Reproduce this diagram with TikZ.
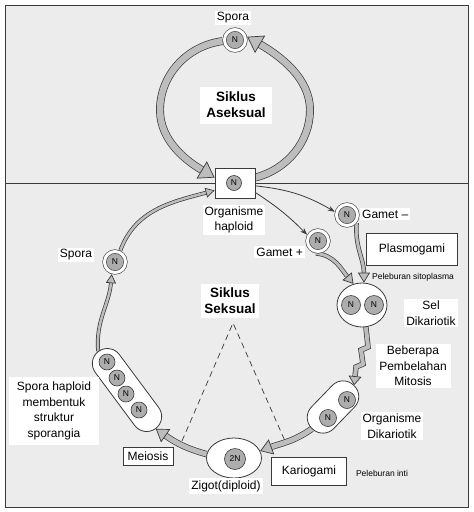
\documentclass[tikz,border=0pt]{standalone}
\usepackage{fontspec}
\setmainfont{Liberation Sans}
\usetikzlibrary{arrows.meta,shapes.geometric}
\pgfdeclarelayer{panel}
\pgfdeclarelayer{arr}
\pgfsetlayers{panel,arr,main}
\definecolor{panelc}{HTML}{ECECEC}
\definecolor{linec}{HTML}{3A3A3A}
\definecolor{fillc}{HTML}{BDBDBD}
\definecolor{nucc}{HTML}{ADADAD}
\newcommand\hollowarr[4]{%
  \draw[draw=linec,line width=0.7pt,double=fillc,double distance=#1,shorten >=#3] #4;
  \draw[draw=fillc,line width=0.3pt,-{Triangle[length=#3,width=#2,color=linec,fill=fillc,line width=0.7pt]}] #4;
}
\begin{document}
\begin{tikzpicture}[x=1pt,y=1pt,
  lbl/.style={fill=white,inner sep=2pt,align=center,font=\fontsize{12}{15.5}\selectfont},
  small/.style={inner sep=1pt,font=\fontsize{8.5}{10}\selectfont},
  boldlbl/.style={fill=white,inner sep=3pt,align=center,font=\bfseries\fontsize{13.5}{16}\selectfont},
  bx/.style={draw=linec,fill=white,line width=0.8pt,font=\fontsize{12}{14}\selectfont},
  nuc/.style={circle,draw=linec,fill=nucc,line width=0.6pt,inner sep=0pt,minimum size=#1,font=\fontsize{8.5}{9}\selectfont},
  spore/.style={circle,draw=linec,double=white,double distance=3pt,line width=0.6pt,fill=nucc,inner sep=0pt,minimum size=21pt,outer sep=2.1pt,font=\fontsize{8.5}{9}\selectfont},
  cell/.style={draw=linec,fill=white,line width=0.8pt,inner sep=0pt},
  thinarr/.style={draw=linec,line width=0.8pt,-{Stealth[length=7pt,width=5pt]}},
  dashln/.style={draw=linec,line width=0.7pt,dash pattern=on 6pt off 4pt},
  panelbox/.style={draw=linec,fill=panelc,line width=1pt}]
\useasboundingbox (0,0) rectangle (474,-512);
\begin{pgfonlayer}{panel}
  \fill[white] (0,0) rectangle (474,-512);
  \draw[panelbox] (5,-5) rectangle (468,-183);
  \draw[panelbox] (5,-183) rectangle (468,-507);
\end{pgfonlayer}

% ---- top panel
\node[lbl] (tsp) at (233,-18) {Spora};
\node[spore] (sp0) at (235,-40) {N};
\node[boldlbl,minimum width=72pt,minimum height=37pt] (sa) at (236,-105) {Siklus\\Aseksual};
\node[bx,minimum width=40pt,minimum height=30pt,inner sep=0pt] (org) at (235,-183) {};
\node[nuc=15pt] (orgn) at (234,-183) {N};
\node[lbl] (orgl) at (234,-220) {Organisme\\haploid};

% ---- bottom panel
\node[spore] (g1) at (347,-215) {N};
\node[spore] (g2) at (318,-241) {N};
\node[lbl,anchor=west] (gml) at (360,-214) {Gamet –};
\node[lbl,anchor=east] (gpl) at (305,-252) {Gamet +};
\node[bx,minimum width=91pt,minimum height=32pt] (pl) at (412,-249) {Plasmogami};
\node[small] (pel) at (413,-277) {Peleburan sitoplasma};
\node[cell,ellipse,minimum width=50pt,minimum height=44pt] (sel) at (362,-305) {};
\node[nuc=19pt] (s1) at (351,-305) {N};
\node[nuc=19pt] (s2) at (374,-305) {N};
\node[lbl] (sell) at (431,-313) {Sel\\Dikariotik};
\node[lbl,minimum width=75pt] (mit) at (413,-366) {Beberapa\\Pembelahan\\Mitosis};
\node[cell,rounded corners=15pt,minimum width=60pt,minimum height=31pt,rotate=46] (odik) at (333,-407) {};
\node[nuc=17pt] (o1) at (347,-400) {N};
\node[nuc=17pt] (o2) at (328,-418) {N};
\node[lbl] (odl) at (392,-426) {Organisme\\Dikariotik};
\node[cell,ellipse,minimum width=55pt,minimum height=40pt] (zig) at (234,-458) {};
\node[nuc=21pt] (zn) at (235,-459) {2N};
\node[lbl] (zigl) at (226,-486) {Zigot(diploid)};
\node[bx,minimum width=75pt,minimum height=28pt] (kar) at (309,-471) {Kariogami};
\node[small] (pin) at (382,-473) {Peleburan inti};
\node[bx,minimum width=50pt,minimum height=18pt,inner sep=1pt] (mei) at (148,-456) {Meiosis};
\node[cell,rounded corners=15pt,minimum width=96pt,minimum height=30pt,rotate=-53.4] (spg) at (127,-390) {};
\node[nuc=16pt] (k1) at (107,-362) {N};
\node[nuc=16pt] (k2) at (117,-378) {N};
\node[nuc=16pt] (k3) at (126,-394) {N};
\node[nuc=16pt] (k4) at (139,-410) {N};
\node[lbl,minimum width=90pt,minimum height=68pt] (shl) at (54,-411) {Spora haploid\\membentuk\\struktur\\sporangia};
\node[spore] (sp1) at (115,-262) {N};
\node[lbl] (spl) at (76,-255) {Spora};
\node[boldlbl,minimum width=50pt,minimum height=34pt] (ss) at (230,-301) {Siklus\\Seksual};

\coordinate (apex) at (233,-323);
\coordinate (dl) at (182,-441);
\coordinate (dr) at (285,-441);

\begin{pgfonlayer}{arr}
  % asexual cycle
  \hollowarr{6.5pt}{20pt}{15pt}{(sp0.185) .. controls (186,-46) and (160,-76) .. (160,-110) .. controls (160,-140) and (185,-160) .. (org.165)}
  \hollowarr{6.5pt}{20pt}{15pt}{(org.15) .. controls (288,-169) and (310,-141) .. (310,-110) .. controls (310,-78) and (280,-56) .. (sp0.15)}
  % gametes
  \draw[thinarr] (org.-8) to[bend left=12] (g1.165);
  \draw[thinarr] (org.-25) to[bend left=6] (g2.150);
  \hollowarr{3pt}{12pt}{10pt}{(g1.-40) to[out=-95,in=90] (sel.85)}
  \hollowarr{3pt}{12pt}{10pt}{(g2.-100) to[out=-5,in=130] (sel.112)}
  % mitosis
  \hollowarr{4pt}{13pt}{9pt}{(sel.-80) -- (368,-347) -- (361,-350) -- (363,-364) -- (356,-367) -- (odik.east)}
  % karyogamy
  \hollowarr{5pt}{16pt}{12pt}{(odik.west) to[out=215,in=20] (zig.15)}
  % meiosis
  \hollowarr{5pt}{16pt}{12pt}{(zig.172) to[out=165,in=-35] (spg.east)}
  % spores
  \hollowarr{2.5pt}{10pt}{9pt}{(spg.west) to[out=95,in=-95] (sp1.-105)}
  \hollowarr{2.5pt}{10pt}{9pt}{(sp1.65) to[out=70,in=195] (org.200)}
  % dashed
  \draw[dashln] (dl) -- (apex) -- (dr);
\end{pgfonlayer}
\end{tikzpicture}
\end{document}
